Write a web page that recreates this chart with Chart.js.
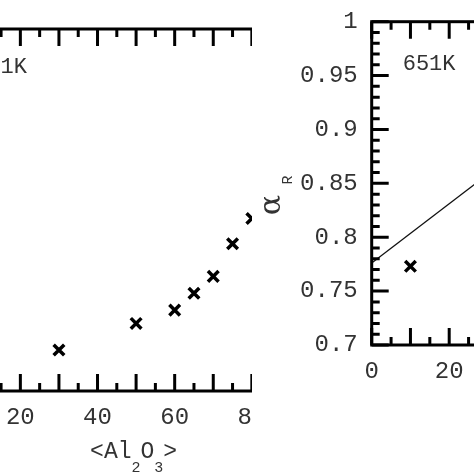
<!DOCTYPE html>
<html>
<head>
<meta charset="utf-8">
<script src="https://cdn.jsdelivr.net/npm/chart.js@4.4.1/dist/chart.umd.min.js"></script>
<style>
  html, body { margin: 0; padding: 0; width: 474px; height: 474px; overflow: hidden; background: #fff; }
  #leftBox { position: absolute; left: -100px; top: 0; width: 440px; height: 474px; }
  #rightBox { position: absolute; left: 252px; top: 0; width: 520px; height: 474px; background: #fff; }
</style>
</head>
<body>
<div id="leftBox"><canvas id="leftChart" width="440" height="474"></canvas></div>
<div id="rightBox"><canvas id="rightChart" width="520" height="474"></canvas></div>
<script>
// left panel: alpha_R against <Al2O3>
const leftX = [30, 50, 60, 65, 70, 75, 80];
const leftY = [0.734, 0.756, 0.767, 0.781, 0.795, 0.822, 0.843];
// right panel
const rightX = [10];
const rightY = [0.773];
const fitX = [0, 80];
const fitY = [0.776, 0.996];
const xTickLabels = [0, 20, 40, 60, 80];
const yTickLabels = [0.7, 0.75, 0.8, 0.85, 0.9, 0.95, 1];
const tempLabel = '651K';

const FONT = '"Liberation Mono", "Courier New", monospace';
const TEXT = '#333';

function xScale(height) {
  return {
    type: 'linear', min: 0, max: 100,
    ticks: {
      stepSize: 5, autoSkip: false, maxRotation: 0, padding: 12, color: TEXT,
      font: { family: FONT, size: 24 },
      callback: v => xTickLabels.includes(v) ? String(v) : ''
    },
    grid: { display: false, drawTicks: false },
    border: { display: false },
    afterFit: s => { s.height = height; s.paddingLeft = 0; s.paddingRight = 0; }
  };
}

function yScale(width) {
  return {
    type: 'linear', min: 0.7, max: 1,
    ticks: {
      stepSize: 0.01, autoSkip: false, padding: 14, color: TEXT,
      font: { family: FONT, size: 24 },
      callback: v => {
        const r = Math.round(v * 100) / 100;
        return yTickLabels.includes(r) ? String(r) : '';
      }
    },
    grid: { display: false, drawTicks: false },
    border: { display: false },
    afterFit: s => { s.width = width; s.paddingTop = 0; s.paddingBottom = 0; }
  };
}

// inward ticks, box and the temperature note
const framePlugin = {
  id: 'frame',
  afterDraw(chart, args, opts) {
    const { ctx, chartArea: a, scales } = chart;
    ctx.save();
    ctx.strokeStyle = '#000';
    ctx.lineWidth = 3;
    ctx.beginPath();
    scales.x.ticks.forEach(t => {
      const px = scales.x.getPixelForValue(t.value);
      const len = Math.round(t.value) % 10 === 0 ? 17 : 8;
      ctx.moveTo(px, a.bottom); ctx.lineTo(px, a.bottom - len);
      ctx.moveTo(px, a.top); ctx.lineTo(px, a.top + len);
    });
    scales.y.ticks.forEach(t => {
      const py = scales.y.getPixelForValue(t.value);
      const len = Math.round(t.value * 100) % 5 === 0 ? 17 : 8;
      ctx.moveTo(a.left, py); ctx.lineTo(a.left + len, py);
      ctx.moveTo(a.right, py); ctx.lineTo(a.right - len, py);
    });
    ctx.stroke();
    ctx.strokeRect(a.left, a.top, a.right - a.left, a.bottom - a.top);
    ctx.fillStyle = TEXT;
    ctx.font = '22px ' + FONT;
    ctx.textBaseline = 'alphabetic';
    ctx.fillText(tempLabel, a.left + 31, a.top + opts.labelDy);
    ctx.restore();
  }
};

const xTitlePlugin = {
  id: 'xTitle',
  afterDraw(chart) {
    const ctx = chart.ctx;
    const pieces = [['<Al', 23, 0], ['2', 15, 14], ['O', 23, 0], ['3', 15, 14], ['>', 23, 0]];
    let x = chart.scales.x.getPixelForValue(50) - 46;
    const base = 458;
    ctx.save();
    ctx.fillStyle = TEXT;
    ctx.textBaseline = 'alphabetic';
    pieces.forEach(([s, size, dy]) => {
      ctx.font = size + 'px ' + FONT;
      ctx.fillText(s, x, base + dy);
      x += ctx.measureText(s).width;
    });
    ctx.restore();
  }
};

const yTitlePlugin = {
  id: 'yTitle',
  afterDraw(chart) {
    const ctx = chart.ctx;
    ctx.save();
    ctx.fillStyle = TEXT;
    ctx.translate(28, 205);
    ctx.rotate(-Math.PI / 2);
    ctx.textAlign = 'center';
    ctx.font = '30px "DejaVu Serif", serif';
    ctx.fillText('\u03b1', 0, 0);
    ctx.font = '15px ' + FONT;
    ctx.fillText('R', 25, 12);
    ctx.restore();
  }
};

const markerStyle = {
  pointStyle: 'crossRot', pointRadius: 7.5, pointHoverRadius: 7.5,
  borderColor: '#000', backgroundColor: '#000', borderWidth: 3.5, showLine: false
};

new Chart(document.getElementById('leftChart'), {
  type: 'scatter',
  data: {
    datasets: [
      Object.assign({ data: leftX.map((x, i) => ({ x, y: leftY[i] })) }, markerStyle)
    ]
  },
  options: {
    responsive: false, animation: false,
    layout: { padding: { left: 0, right: 9.3, top: 29, bottom: 0 } },
    scales: { x: xScale(83), y: yScale(43.2) },
    plugins: { legend: { display: false }, tooltip: { enabled: false }, frame: { labelDy: 44 } }
  },
  plugins: [framePlugin, xTitlePlugin]
});

new Chart(document.getElementById('rightChart'), {
  type: 'scatter',
  data: {
    datasets: [
      Object.assign({ data: rightX.map((x, i) => ({ x, y: rightY[i] })) }, markerStyle),
      {
        data: fitX.map((x, i) => ({ x, y: fitY[i] })),
        showLine: true, pointRadius: 0, borderColor: '#111', borderWidth: 1.3
      }
    ]
  },
  options: {
    responsive: false, animation: false,
    layout: { padding: { left: 0, right: 12.8, top: 21.7, bottom: 0 } },
    scales: { x: xScale(129), y: yScale(119.7) },
    plugins: { legend: { display: false }, tooltip: { enabled: false }, frame: { labelDy: 48 } }
  },
  plugins: [framePlugin, yTitlePlugin]
});
</script>
</body>
</html>
